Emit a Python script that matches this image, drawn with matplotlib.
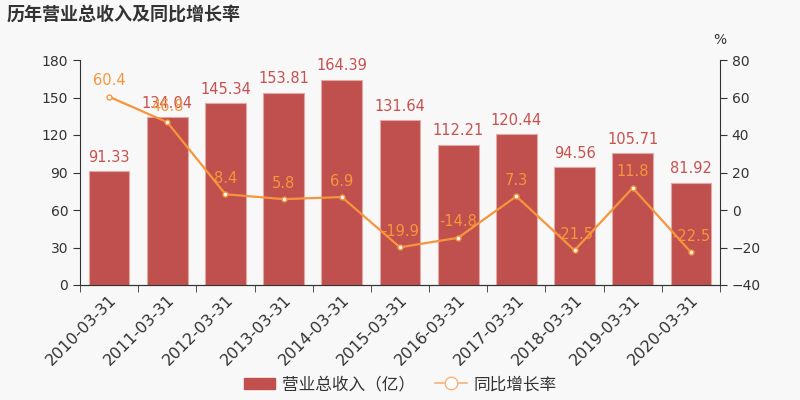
import matplotlib
matplotlib.use('Agg')
import matplotlib.pyplot as plt
import numpy as np
from matplotlib.lines import Line2D
from matplotlib.patches import Patch

plt.rcParams['font.family'] = ['DejaVu Sans', 'Noto Sans CJK SC']

# Data
dates = ['2010-03-31', '2011-03-31', '2012-03-31', '2013-03-31', '2014-03-31', '2015-03-31',
         '2016-03-31', '2017-03-31', '2018-03-31', '2019-03-31', '2020-03-31']
revenue = [91.33, 134.04, 145.34, 153.81, 164.39, 131.64, 112.21, 120.44, 94.56, 105.71, 81.92]
growth = [60.4, 46.8, 8.4, 5.8, 6.9, -19.9, -14.8, 7.3, -21.5, 11.8, -22.5]

BAR_COLOR = '#c0504d'
LINE_COLOR = '#f7953c'
BG = '#f8f8f8'
TXT = '#333333'
CJK = ['Noto Sans CJK SC', 'DejaVu Sans']

fig = plt.figure(figsize=(8, 4), dpi=100, facecolor=BG)
ax = fig.add_axes([0.1, 0.2875, 0.8, 0.5625], facecolor=BG)
ax2 = ax.twinx()

x = np.arange(len(dates))
ax.bar(x, revenue, width=0.7, color=BAR_COLOR, edgecolor='#e2a9a7', linewidth=0.8, zorder=2)
ax.set_xlim(-0.5, len(dates) - 0.5)
ax.set_ylim(0, 180)
ax.set_yticks(np.arange(0, 181, 30))
ax.set_xticks(x)
ax.set_xticklabels(dates, rotation=45, ha='right', rotation_mode='anchor', fontsize=11.5, color=TXT)
ax.tick_params(axis='y', labelsize=10, colors=TXT, length=5)
ax.set_xticks(np.arange(-0.5, len(dates), 1), minor=True)
ax.tick_params(axis='x', which='major', length=0, pad=5)
ax.tick_params(axis='x', which='minor', length=5, color=TXT)

for i, v in enumerate(revenue):
    ax.text(i, v + 5, f'{v:.2f}', ha='center', va='bottom', color='#c9514e', fontsize=10.5, zorder=5)

ax2.plot(x, growth, color=LINE_COLOR, linewidth=1.6, marker='o', markersize=3.5,
         markerfacecolor='white', markeredgecolor=LINE_COLOR, markeredgewidth=1, zorder=4)
ax2.set_ylim(-40, 80)
ax2.set_yticks(np.arange(-40, 81, 20))
ax2.tick_params(axis='y', labelsize=10, colors=TXT, length=5)
for i, v in enumerate(growth):
    ax2.text(i, v + 4.5, f'{v}', ha='center', va='bottom', color=LINE_COLOR, fontsize=10.5, zorder=6)
ax2.text(1.0, 1.06, '%', transform=ax2.transAxes, ha='center', va='bottom', fontsize=10, color=TXT)

for a in (ax, ax2):
    a.spines['top'].set_visible(False)
    for s in ('left', 'right', 'bottom'):
        a.spines[s].set_color(TXT)
ax2.spines['left'].set_visible(False)
ax.spines['right'].set_visible(False)

fig.text(0.008, 0.965, '历年营业总收入及同比增长率', fontsize=13, fontweight='bold', color=TXT,
         ha='left', va='center', family=CJK)

handles = [Patch(facecolor=BAR_COLOR, edgecolor=BAR_COLOR),
           Line2D([0], [0], color='#f9b27a', linewidth=1.2, marker='o', markersize=9,
                  markerfacecolor='white', markeredgecolor='#f9b27a')]
fig.legend(handles, ['营业总收入（亿）', '同比增长率'], loc='center', bbox_to_anchor=(0.5, 0.038),
           ncol=2, frameon=False, prop={'family': CJK, 'size': 12}, handlelength=1.9,
           columnspacing=1.2, handletextpad=0.4, labelcolor=TXT)

fig.savefig('out.png', dpi=100, facecolor=BG)
